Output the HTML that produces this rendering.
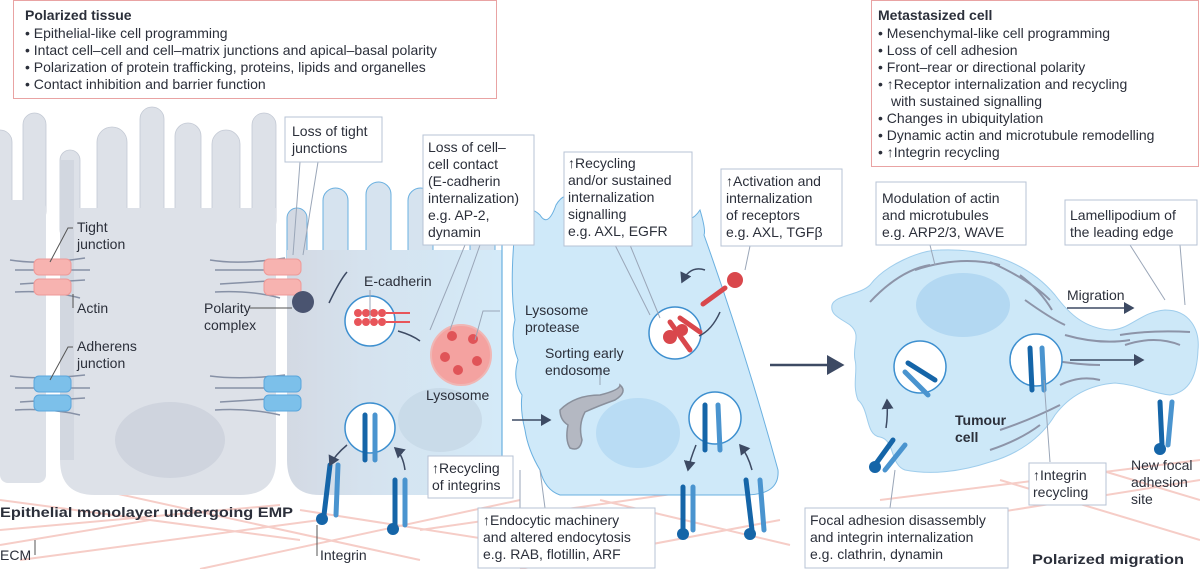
<!DOCTYPE html>
<html><head><meta charset="utf-8"><style>
html,body{margin:0;padding:0;background:#fff;}
svg{display:block;}
text{font-family:"Liberation Sans",sans-serif;font-size:14px;fill:#2b2f3a;}
.b{font-weight:bold;}
</style></head><body>
<svg width="1200" height="569" viewBox="0 0 1200 569" xmlns="http://www.w3.org/2000/svg">
<defs>
<linearGradient id="g3" x1="0" x2="1" y1="0" y2="0">
<stop offset="0" stop-color="#d3d9e3"/><stop offset="0.35" stop-color="#d5e2ee"/><stop offset="1" stop-color="#d4eaf8"/></linearGradient>
<marker id="ar" markerWidth="8" markerHeight="8" refX="6" refY="4" orient="auto"><path d="M0,0 L7,4 L0,8 z" fill="#3d4a63"/></marker>
</defs>

<!-- ECM -->
<g stroke="#f6cdc7" stroke-width="2" fill="none">
<path d="M0,500 L300,540 M0,530 L280,505 M20,560 L320,520 M100,490 L420,560 M200,569 L520,500 M300,510 L620,560 M420,530 L700,490 M520,569 L780,520 M600,500 L790,545 M0,545 L150,520"/>
<path d="M880,500 L1200,460 M950,520 L1200,480 M1000,480 L1200,540 M1100,470 L1200,500"/>
</g>

<!-- leftmost cell -->
<g fill="#dde1e8" stroke="#c3c9d4" stroke-width="0.8">
<rect x="-12" y="130" width="24" height="100" rx="12"/>
<rect x="23" y="113" width="23" height="110" rx="11.5"/>
</g>
<rect x="0" y="200" width="46" height="283" rx="8" fill="#dde1e8"/>
<!-- cell 2 -->
<g fill="#dde1e8" stroke="#c3c9d4" stroke-width="0.8">
<rect x="60" y="150" width="20" height="90" rx="10"/>
<rect x="97" y="127" width="30" height="110" rx="15"/>
<rect x="140" y="107" width="24" height="130" rx="12"/>
<rect x="175" y="123" width="26" height="110" rx="13"/>
<rect x="212" y="130" width="28" height="110" rx="14"/>
<rect x="252" y="113" width="24" height="120" rx="12"/>
</g>
<path d="M60,208 L276,208 L276,460 Q276,495 240,495 L95,495 Q60,495 60,460 Z" fill="#dde1e8"/>
<rect x="60" y="160" width="14" height="300" fill="#d2d7e0"/>
<ellipse cx="170" cy="440" rx="55" ry="38" fill="#cfd4de"/>

<!-- cell 3 -->
<g fill="#d6e3ef" stroke="#6ab0e0" stroke-width="1">
<rect x="287" y="208" width="20" height="70" rx="10" fill="#d3d9e3"/>
<rect x="323" y="188" width="25" height="90" rx="12.5"/>
<rect x="366" y="182" width="25" height="90" rx="12.5"/>
<rect x="408" y="188" width="25" height="90" rx="12.5"/>
<rect x="470" y="182" width="25" height="90" rx="12.5"/>
</g>
<path d="M287,250 L502,250 L502,470 Q502,495 470,495 L320,495 Q287,495 287,460 Z" fill="url(#g3)"/>
<path d="M502,220 L502,470 Q502,495 470,495" stroke="#6ab0e0" fill="none" stroke-width="1.2"/>
<ellipse cx="440" cy="420" rx="42" ry="32" fill="#c9dbe9"/>

<!-- cell 4 -->
<path d="M514,240 Q512,225 520,215 Q530,205 540,215 Q548,228 556,205 Q565,190 575,200 Q582,215 592,210 L640,215 Q650,220 660,212 Q672,205 680,215 Q690,225 700,210 Q706,230 704,235 Q745,350 778,470 Q780,495 745,495 L560,495 Q545,490 540,470 Q528,450 525,430 Q520,410 522,395 Q512,380 518,360 Q510,340 515,320 Q510,290 514,240 Z" fill="#cfe9f9" stroke="#6ab0e0" stroke-width="1"/>
<ellipse cx="638" cy="433" rx="42" ry="35" fill="#b9dcf4"/>
<path d="M560,410 Q575,395 600,395 Q620,390 620,385 Q628,392 615,400 Q598,406 585,412 Q578,425 582,440 Q580,452 570,448 Q565,440 568,425 Q560,420 560,410 Z" fill="#b4b8c2" stroke="#8a909c" stroke-width="1.5"/>

<!-- tumour cell -->
<path d="M832,305 C835,295 860,295 870,285 C885,265 920,250 940,250 C990,248 1030,265 1055,295 C1070,315 1085,328 1110,330 C1130,330 1140,312 1165,310 C1190,310 1200,330 1198,350 C1197,375 1190,392 1170,395 C1150,393 1140,385 1115,383 C1090,385 1070,395 1055,415 C1040,440 1015,455 990,462 C960,472 930,475 905,470 C890,465 895,440 880,437 C865,435 870,410 858,400 C852,385 858,370 855,360 C852,345 862,335 850,325 C840,318 830,315 832,305 Z" fill="#cde8f8" stroke="#9fcdec" stroke-width="1"/>
<ellipse cx="963" cy="305" rx="47" ry="32" fill="#b3d8f2"/>
<g stroke="#8d94a8" stroke-width="2" fill="none">
<path d="M870,302 Q900,270 930,265 M915,270 Q960,255 1000,265 M990,262 Q1030,280 1050,300 M1020,275 Q1040,290 1052,310 M1025,300 Q1050,318 1065,325 M1065,335 Q1100,345 1130,340 M1120,335 Q1150,330 1190,332 M1125,345 Q1155,335 1180,345 M1050,360 Q1080,365 1100,365 M990,450 Q1020,440 1040,425 M1000,430 Q1030,420 1060,405 M1060,385 Q1080,375 1100,380"/>
</g>

<!-- junctions -->
<g stroke="#8791a6" stroke-width="1.5" fill="none">
<path d="M10,260 Q40,265 85,258 M15,270 L90,270 M20,284 L85,280 M15,292 Q50,290 80,298 M10,376 Q40,380 85,375 M15,388 L90,388 M20,402 L85,398 M15,410 Q50,408 80,415"/>
<path d="M210,260 Q240,265 285,258 M215,270 L290,270 M220,284 L285,280 M215,292 Q250,290 280,298 M210,376 Q240,380 285,375 M215,388 L290,388 M220,402 L285,398 M215,410 Q250,408 280,415"/>
</g>
<g fill="#f7b3b0" stroke="#ee9a98"><rect x="34" y="259" width="37" height="16" rx="5"/><rect x="34" y="279" width="37" height="16" rx="5"/>
<rect x="264" y="259" width="37" height="16" rx="5"/><rect x="264" y="279" width="37" height="16" rx="5"/></g>
<g fill="#7cc0ea" stroke="#5aa6dc"><rect x="34" y="376" width="37" height="16" rx="5"/><rect x="34" y="395" width="37" height="16" rx="5"/>
<rect x="264" y="376" width="37" height="16" rx="5"/><rect x="264" y="395" width="37" height="16" rx="5"/></g>
<circle cx="303" cy="302" r="11" fill="#4a5470"/>
<g stroke="#555" stroke-width="1" fill="none"><path d="M73,228 L68,228 L50,262 M73,308 L73,294 M73,347 L68,347 L50,380 M250,308 L292,308"/></g>

<!-- circles -->
<g fill="#fff" stroke="#3d8fcf" stroke-width="1.5">
<circle cx="370" cy="321" r="25"/><circle cx="370" cy="428" r="25"/>
<circle cx="675" cy="333" r="26"/><circle cx="715" cy="418" r="26"/>
<circle cx="920" cy="367" r="26"/><circle cx="1036" cy="360" r="26"/>
</g>
<g fill="#e8555a"><circle cx="358" cy="313" r="4"/><circle cx="366" cy="313" r="4"/><circle cx="374" cy="313" r="4"/><circle cx="382" cy="313" r="4"/>
<circle cx="358" cy="322" r="4"/><circle cx="366" cy="322" r="4"/><circle cx="374" cy="322" r="4"/><circle cx="382" cy="322" r="4"/></g>
<path d="M386,313 L410,313 M386,322 L410,322" stroke="#e8555a" stroke-width="2"/>
<circle cx="461" cy="355" r="30" fill="#f4a2a0" stroke="#f0b6b4" stroke-width="2"/>
<g fill="#e05458"><circle cx="452" cy="336" r="5"/><circle cx="473" cy="339" r="5"/><circle cx="445" cy="357" r="5"/><circle cx="477" cy="361" r="5"/><circle cx="458" cy="370" r="5"/></g>
<path d="M329,303 Q340,280 347,272 M398,331 Q412,335 420,341 M699,336 Q712,330 720,312 M705,270 Q690,265 682,282" stroke="#3d4a63" stroke-width="1.5" fill="none" marker-end="url(#ar)"/>
<g stroke="#d9474c" stroke-width="5" stroke-linecap="round" fill="none"><path d="M703,304 L725,288 M680,318 L700,332 M670,322 L690,350"/></g>
<g fill="#d9474c"><circle cx="735" cy="280" r="8"/><circle cx="670" cy="337" r="7"/><circle cx="682" cy="330" r="6"/></g>

<!-- integrins -->
<g stroke-linecap="round" fill="none" stroke-width="5">
<path d="M365,415 L365,460 M330,465 L324,515 M395,480 L395,525 M705,405 L705,450 M683,487 L683,530 M746,480 L752,530 M908,363 L935,380 M1030,348 L1032,390 M1160,402 L1162,445 M893,440 L875,465" stroke="#1565a8"/>
<path d="M375,415 L375,460 M338,465 L336,515 M405,480 L405,525 M718,405 L720,450 M693,487 L693,530 M760,480 L764,530 M905,372 L928,395 M1042,348 L1044,390 M1172,402 L1168,445 M905,445 L885,470" stroke="#4a94cf"/>
</g>
<g fill="#1565a8"><circle cx="322" cy="519" r="6"/><circle cx="683" cy="534" r="6"/><circle cx="750" cy="534" r="6"/><circle cx="1160" cy="449" r="6"/><circle cx="875" cy="467" r="6"/><circle cx="393" cy="529" r="6"/></g>

<!-- arrows -->
<g stroke="#3d4a63" stroke-width="1.5" fill="none" marker-end="url(#ar)">
<path d="M512,420 L550,420"/><path d="M1067,308 L1133,308"/><path d="M1070,360 L1143,360"/>
<path d="M347,445 Q335,455 330,465"/><path d="M405,470 Q403,455 395,448"/>
<path d="M696,445 Q690,460 688,470"/><path d="M752,470 Q748,455 740,445"/>
<path d="M886,428 Q888,415 887,400"/>
</g>
<path d="M770,365 L842,365" stroke="#3d4a63" stroke-width="2.5" marker-end="url(#ar)"/>

<!-- pointer lines -->
<g stroke="#9aa6b8" stroke-width="1" fill="none">
<path d="M300,162 L293,255 M318,162 L303,255 M465,245 L430,330 M480,245 L450,330 M615,245 L650,315 M630,245 L660,318 M750,246 L745,270 M930,245 L935,265 M1180,245 L1185,305 M1130,245 L1165,300 M1050,462 L1044,380 M890,508 L895,470 M462,470 L440,478 M520,508 L520,470 M545,508 L540,470 M580,369 L600,369 L600,385 M500,311 L483,311 L475,340 M370,290 L370,320"/>
</g>

<!-- label boxes -->
<g fill="#fff" stroke="#b7c3d5" stroke-width="1">
<rect x="285" y="117" width="97" height="45"/>
<rect x="423" y="135" width="111" height="110"/>
<rect x="564" y="152" width="128" height="94"/>
<rect x="721" y="169" width="121" height="77"/>
<rect x="876" y="182" width="150" height="63"/>
<rect x="1065" y="200" width="132" height="45"/>
<rect x="428" y="456" width="85" height="42"/>
<rect x="478" y="508" width="177" height="60"/>
<rect x="805" y="508" width="203" height="60"/>
<rect x="1029" y="463" width="77" height="42"/>
</g>
<rect x="13.5" y="0.5" width="483" height="98" fill="#fff" stroke="#e9a3a3"/>
<rect x="871.5" y="0.5" width="327" height="166" fill="#fff" stroke="#e9a3a3"/>

<text x="25" y="20" class="b" font-size="15">Polarized tissue</text>
<text x="25" y="38">• Epithelial-like cell programming</text>
<text x="25" y="55">• Intact cell–cell and cell–matrix junctions and apical–basal polarity</text>
<text x="25" y="72">• Polarization of protein trafficking, proteins, lipids and organelles</text>
<text x="25" y="89">• Contact inhibition and barrier function</text>

<text x="878" y="20" class="b" font-size="15">Metastasized cell</text>
<text x="878" y="38">• Mesenchymal-like cell programming</text>
<text x="878" y="55">• Loss of cell adhesion</text>
<text x="878" y="72">• Front–rear or directional polarity</text>
<text x="878" y="89">• ↑Receptor internalization and recycling</text>
<text x="891" y="106">with sustained signalling</text>
<text x="878" y="123">• Changes in ubiquitylation</text>
<text x="878" y="140">• Dynamic actin and microtubule remodelling</text>
<text x="878" y="157">• ↑Integrin recycling</text>

<text x="292" y="136">Loss of tight</text><text x="292" y="153">junctions</text>
<text x="428" y="152">Loss of cell–</text><text x="428" y="169">cell contact</text><text x="428" y="186">(E-cadherin</text><text x="428" y="203">internalization)</text><text x="428" y="220">e.g. AP-2,</text><text x="428" y="237">dynamin</text>
<text x="568" y="168">↑Recycling</text><text x="568" y="185">and/or sustained</text><text x="568" y="202">internalization</text><text x="568" y="219">signalling</text><text x="568" y="236">e.g. AXL, EGFR</text>
<text x="726" y="186">↑Activation and</text><text x="726" y="203">internalization</text><text x="726" y="220">of receptors</text><text x="726" y="237">e.g. AXL, TGFβ</text>
<text x="882" y="203">Modulation of actin</text><text x="882" y="220">and microtubules</text><text x="882" y="237">e.g. ARP2/3, WAVE</text>
<text x="1070" y="220">Lamellipodium of</text><text x="1070" y="237">the leading edge</text>
<text x="432" y="473">↑Recycling</text><text x="432" y="490">of integrins</text>
<text x="483" y="525">↑Endocytic machinery</text><text x="483" y="542">and altered endocytosis</text><text x="483" y="559">e.g. RAB, flotillin, ARF</text>
<text x="810" y="525">Focal adhesion disassembly</text><text x="810" y="542">and integrin internalization</text><text x="810" y="559">e.g. clathrin, dynamin</text>
<text x="1033" y="480">↑Integrin</text><text x="1033" y="497">recycling</text>

<text x="77" y="232">Tight</text><text x="77" y="249">junction</text>
<text x="77" y="313">Actin</text>
<text x="77" y="351">Adherens</text><text x="77" y="368">junction</text>
<text x="204" y="313">Polarity</text><text x="204" y="330">complex</text>
<text x="364" y="286">E-cadherin</text>
<text x="525" y="315">Lysosome</text><text x="525" y="332">protease</text>
<text x="426" y="400">Lysosome</text>
<text x="545" y="358">Sorting early</text><text x="545" y="375">endosome</text>
<text x="1067" y="300">Migration</text>
<text x="955" y="425" class="b" font-size="16">Tumour</text><text x="955" y="442" class="b" font-size="16">cell</text>
<text x="1131" y="470">New focal</text><text x="1131" y="487">adhesion</text><text x="1131" y="504">site</text>
<text x="0" y="517" class="b" font-size="15" textLength="293" lengthAdjust="spacingAndGlyphs">Epithelial monolayer undergoing EMP</text>
<text x="1032" y="564" class="b" font-size="15" textLength="152" lengthAdjust="spacingAndGlyphs">Polarized migration</text>
<text x="0" y="560">ECM</text><path d="M35,540 L35,555" stroke="#555"/>
<text x="320" y="560">Integrin</text><path d="M317,525 L317,556" stroke="#555"/>
</svg>
</body></html>
